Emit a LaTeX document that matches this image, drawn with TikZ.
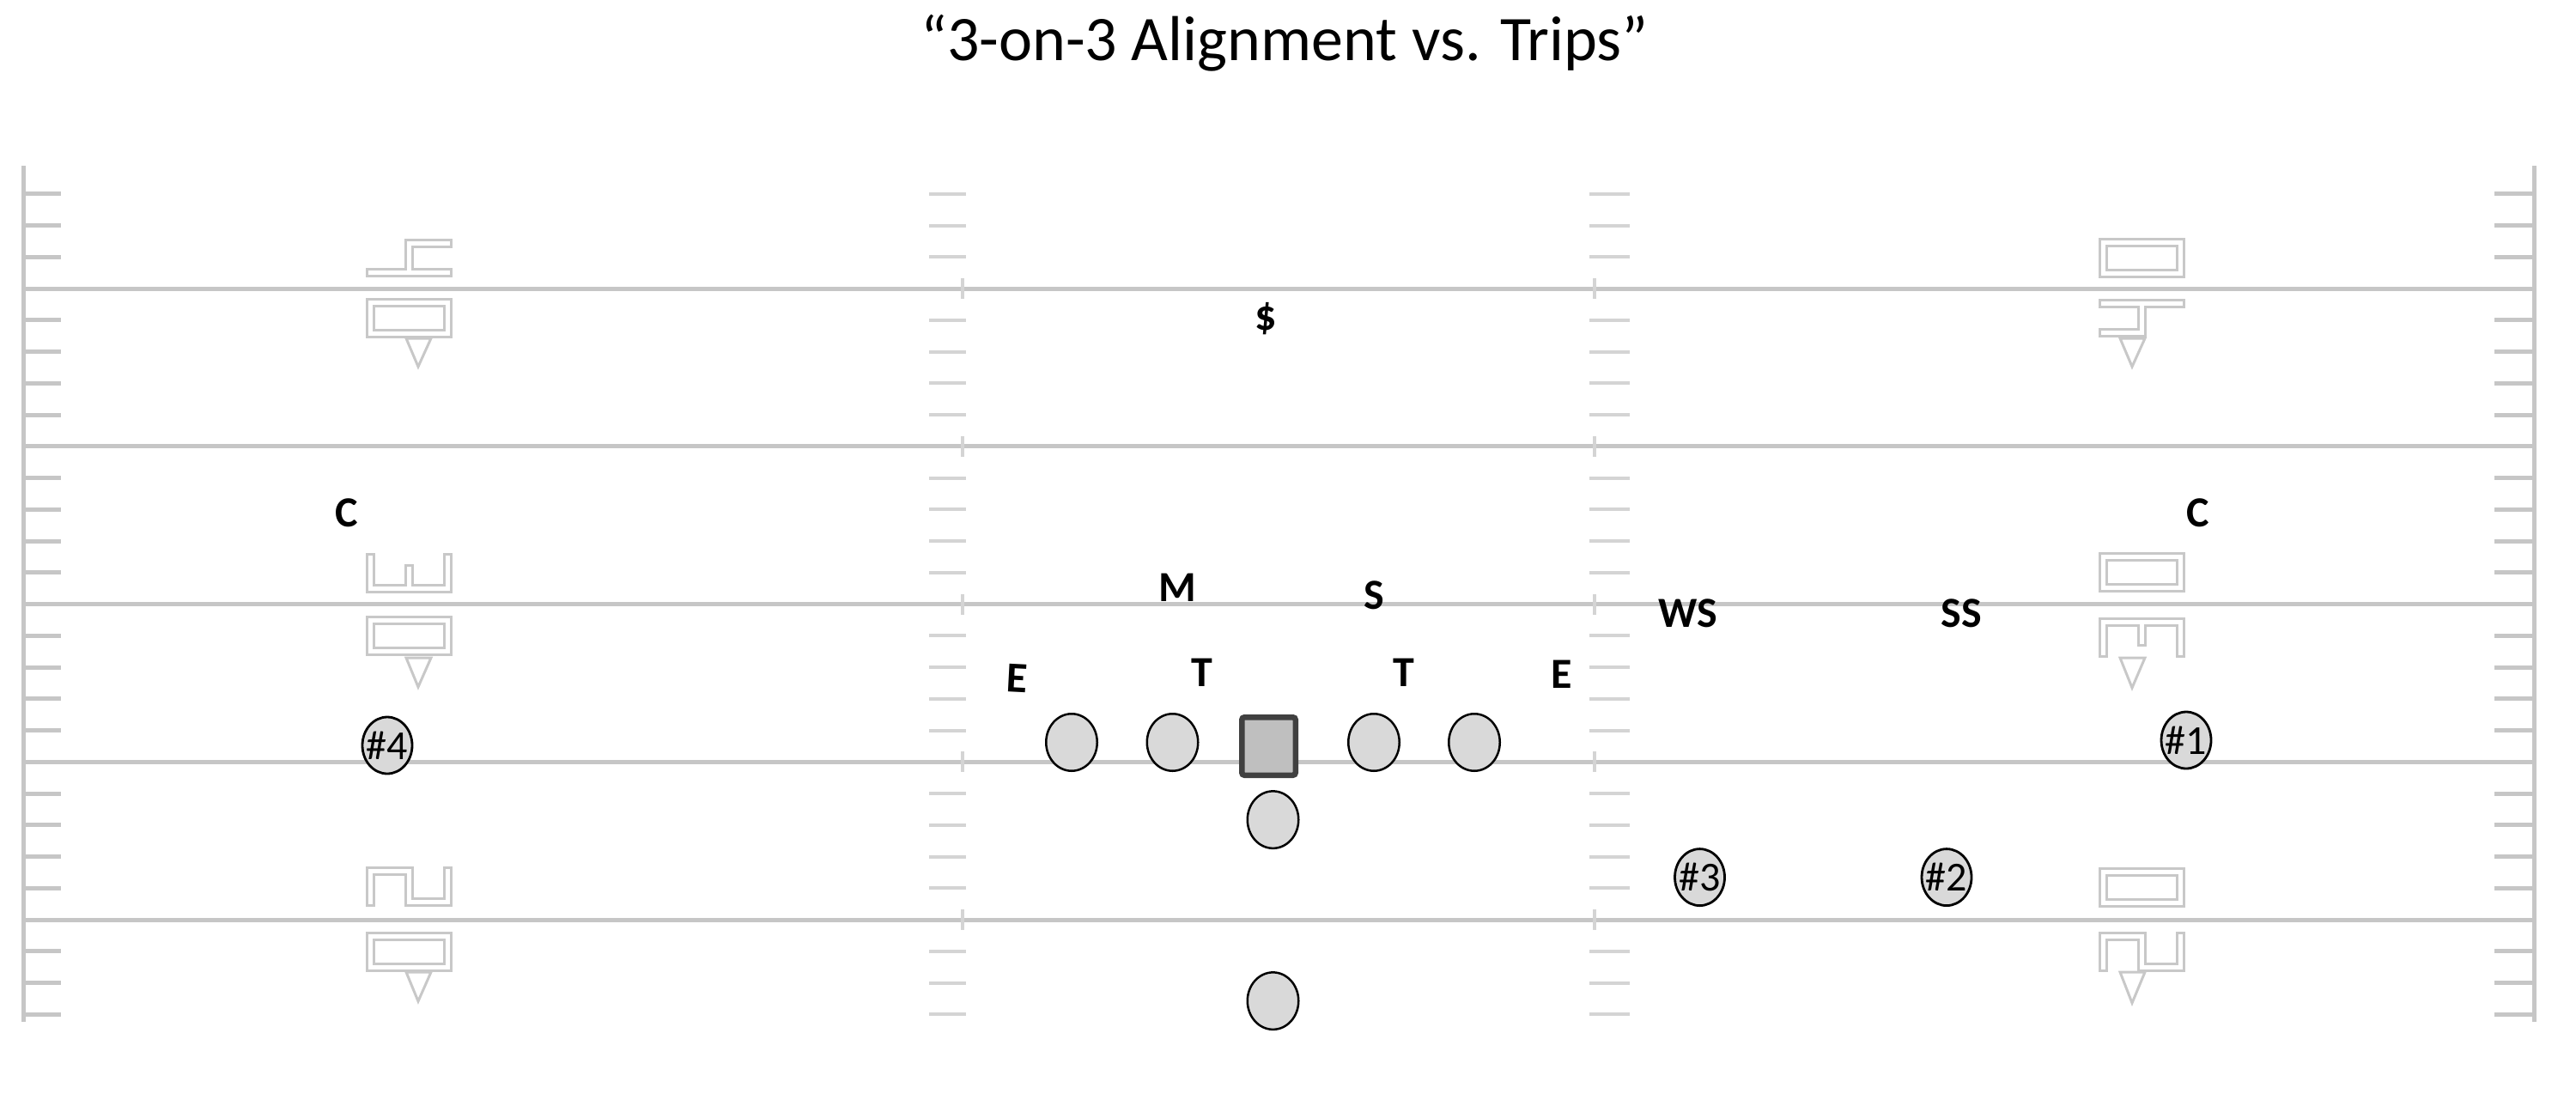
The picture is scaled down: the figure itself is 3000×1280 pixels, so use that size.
\documentclass[tikz,border=0pt]{standalone}
\usepackage{fontspec}
\setmainfont{Carlito}
\usetikzlibrary{shapes.geometric}
\definecolor{fieldline}{RGB}{198,198,198}
\definecolor{hashc}{RGB}{212,212,212}
\definecolor{numc}{RGB}{200,200,200}
\definecolor{pfill}{RGB}{217,217,217}
\definecolor{cfill}{RGB}{191,191,191}
\definecolor{cdraw}{RGB}{64,64,64}
\newcommand\yddigit[3]{\draw[numout,shift={(#1,#2)}] #3; \draw[numin,shift={(#1,#2)}] #3;}
\begin{document}
\begin{tikzpicture}[x=1pt,y=-1pt,
  fline/.style={draw=fieldline,line width=5},
  sidetick/.style={draw=fieldline,line width=5},
  hashtick/.style={draw=hashc,line width=4},
  numout/.style={draw=numc,line width=11,line cap=rect,line join=miter},
  numin/.style={draw=white,line width=5,line cap=rect,line join=miter},
  arrowtri/.style={draw=numc,line width=3,line join=miter},
  lab/.style={font=\bfseries\fontsize{50}{50}\selectfont,inner sep=0},
  rcvtext/.style={font=\fontsize{48}{48}\selectfont,inner sep=0},
  pl/.style={ellipse,draw=black,line width=2.5,fill=pfill,minimum width=59.5,minimum height=66.5,inner sep=0},
  rcv/.style={ellipse,draw=black,line width=2.8,fill=pfill,minimum width=58,minimum height=66,inner sep=0},
  ctrbox/.style={rectangle,rounded corners=3,draw=cdraw,line width=6.5,fill=cfill,minimum width=62.5,minimum height=67.5,inner sep=0}
]
\useasboundingbox (0,0) rectangle (3000,1280);

% title
\node[font=\fontsize{74}{74}\selectfont,anchor=base,inner sep=0] (title) at (1496,70) {“3-on-3 Alignment vs. Trips”};

% ticks and hash marks
\foreach \m in {-3,...,23}{
  \pgfmathtruncatemacro\r{mod(\m+5,5)}
  \ifnum\r=0\relax\else
    \pgfmathsetmacro\yy{336+36.75*\m}
    \draw[sidetick] (27,\yy) -- (71,\yy);
    \draw[sidetick] (2905,\yy) -- (2951,\yy);
    \draw[hashtick] (1082,\yy) -- (1125,\yy);
    \draw[hashtick] (1851,\yy) -- (1898,\yy);
  \fi
}
% yard lines
\foreach \k in {0,...,4}{
  \pgfmathsetmacro\yy{336+183.75*\k}
  \draw[fline] (27,\yy) -- (2951,\yy);
  \draw[hashtick] (1121,\yy-12) -- (1121,\yy+12);
  \draw[hashtick] (1857,\yy-12) -- (1857,\yy+12);
}
% sidelines
\draw[fline] (27,193) -- (27,1190);
\draw[fline] (2951,193) -- (2951,1190);

% yard numbers, left column
\yddigit{426}{277}{(5,40) -- (95,40) (50,40) -- (50,6) -- (95,6)}
\yddigit{426}{347}{(5,5) rectangle (95,41)}
\draw[arrowtri] (473,394) -- (502,394) -- (487,427) -- cycle;
\yddigit{426}{644}{(5,5) -- (5,41) -- (95,41) -- (95,5) (50,41) -- (50,18)}
\yddigit{426}{717}{(5,5) rectangle (95,41)}
\draw[arrowtri] (473,766) -- (502,766) -- (487,800) -- cycle;
\yddigit{426}{1009}{(5,41) -- (5,5) -- (50,5) -- (50,41) -- (95,41) -- (95,5)}
\yddigit{426}{1085}{(5,5) rectangle (95,41)}
\draw[arrowtri] (473,1132) -- (502,1132) -- (487,1166) -- cycle;

% yard numbers, right column
\yddigit{2444}{277}{(5,5) rectangle (95,41)}
\yddigit{2444}{347}{(95,6) -- (5,6) (50,6) -- (50,40) -- (5,40)}
\draw[arrowtri] (2469,394) -- (2498,394) -- (2483,427) -- cycle;
\yddigit{2444}{643}{(5,5) rectangle (95,41)}
\yddigit{2444}{719}{(95,41) -- (95,5) -- (5,5) -- (5,41) (50,5) -- (50,28)}
\draw[arrowtri] (2469,766) -- (2498,766) -- (2483,801) -- cycle;
\yddigit{2444}{1010}{(5,5) rectangle (95,41)}
\yddigit{2444}{1085}{(5,41) -- (5,5) -- (50,5) -- (50,41) -- (95,41) -- (95,5)}
\draw[arrowtri] (2469,1132) -- (2498,1132) -- (2483,1168) -- cycle;

% defense labels
\node[lab] (dollar) at (1474,371) {\$};
\node[lab] (cL) at (404,597) {C};
\node[lab] (cR) at (2560,597) {C};
\node[lab] (M) at (1371,684) {M};
\node[lab] (S) at (1600,693) {S};
\node[lab] (WS) at (1966,714) {WS};
\node[lab] (SS) at (2284,714) {SS};
\node[lab,rotate=-3] (EL) at (1185,790) {E};
\node[lab] (TL) at (1400,783) {T};
\node[lab] (TR) at (1635,783) {T};
\node[lab] (ER) at (1819,785) {E};

% offense
\node[pl] (lt) at (1248,864.5) {};
\node[pl] (lg) at (1365.5,864.5) {};
\node[ctrbox] (ctr) at (1477.5,869) {};
\node[pl] (rg) at (1600,864.5) {};
\node[pl] (rt) at (1717,864.5) {};
\node[pl] (qb) at (1482.5,954.6) {};
\node[pl] (rb) at (1482.5,1165.6) {};
\node[rcv,label={[rcvtext]center:\#4}] (r4) at (451,868) {};
\node[rcv,label={[rcvtext]center:\#1}] (r1) at (2546,862) {};
\node[rcv,label={[rcvtext]center:\#3}] (r3) at (1979.5,1021.6) {};
\node[rcv,label={[rcvtext]center:\#2}] (r2) at (2267,1021.6) {};
\end{tikzpicture}
\end{document}
